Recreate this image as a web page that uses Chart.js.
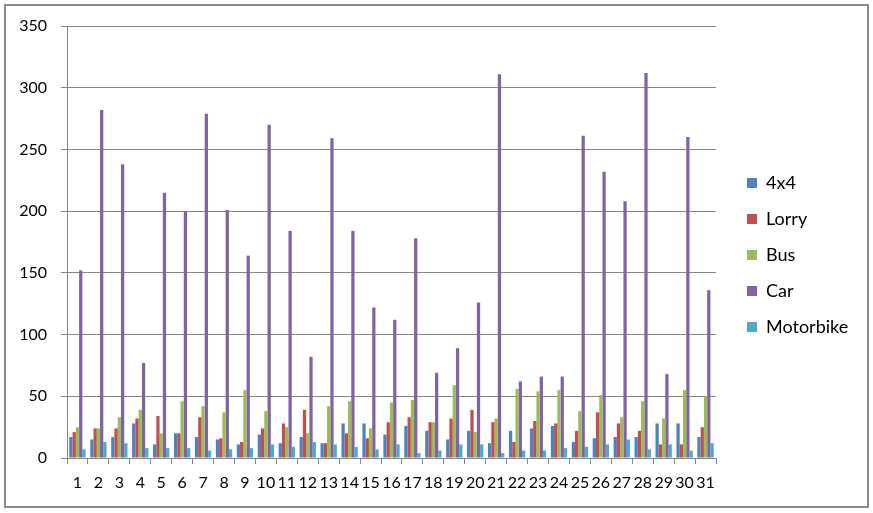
<!DOCTYPE html>
<html>
<head>
<meta charset="utf-8">
<script src="https://cdn.jsdelivr.net/npm/chart.js@4/dist/chart.umd.min.js"></script>
<style>
  html, body { margin: 0; padding: 0; background: #fff; }
  #wrap { position: relative; width: 873px; height: 513px; }
</style>
</head>
<body>
<div id="wrap"><canvas id="c" width="873" height="513"></canvas></div>
<script>
const categories = ["1","2","3","4","5","6","7","8","9","10","11","12","13","14","15","16","17","18","19","20","21","22","23","24","25","26","27","28","29","30","31"];
const seriesNames = ["4x4", "Lorry", "Bus", "Car", "Motorbike"];
const val4x4 = [17,15,17,28,11,20,17,15,11,19,12,17,12,28,28,19,26,22,15,22,12,22,24,26,13,16,17,17,28,28,17];
const valLorry = [21,24,24,32,34,20,33,16,13,24,28,39,12,20,16,29,33,29,32,39,29,13,30,28,22,37,28,22,11,11,25];
const valBus = [25,24,33,39,20,46,42,37,55,38,25,20,42,46,24,45,47,29,59,21,32,56,54,55,38,51,33,46,32,55,50];
const valCar = [152,282,238,77,215,200,279,201,164,270,184,82,259,184,122,112,178,69,89,126,311,62,66,66,261,232,208,312,68,260,136];
const valMoto = [7,13,12,8,8,8,6,7,8,11,9,13,11,9,7,11,4,6,11,11,4,6,6,8,9,11,15,7,11,6,12];
const yTicks = [0,50,100,150,200,250,300,350];

const colors = ["#4F81BD", "#C0504D", "#9BBB59", "#8064A2", "#4BACC6"];
const seriesValues = [val4x4, valLorry, valBus, valCar, valMoto];

const FONT = "Lato, 'Noto Sans', sans-serif";
const legendFontSize = 18;

// measure legend text to position legend
const mctx = document.createElement('canvas').getContext('2d');
mctx.font = legendFontSize + "px " + FONT;
let maxText = 0;
seriesNames.forEach(n => { maxText = Math.max(maxText, mctx.measureText(n).width); });
const itemWidth = 10 + legendFontSize / 2 + maxText;
const padRight = Math.max(0, 116 - itemWidth);

const borderPlugin = {
  id: 'outerBorder',
  beforeDraw(chart) {
    const ctx = chart.ctx;
    ctx.save();
    ctx.fillStyle = '#fff';
    ctx.fillRect(0, 0, chart.width, chart.height);
    ctx.strokeStyle = '#8c8c8c';
    ctx.lineWidth = 2;
    ctx.strokeRect(5, 5, 863, 502);
    ctx.restore();
  }
};

new Chart(document.getElementById('c'), {
  type: 'bar',
  data: {
    labels: categories,
    datasets: seriesNames.map((name, i) => ({
      label: name,
      data: seriesValues[i],
      backgroundColor: colors[i],
      borderWidth: 0,
      categoryPercentage: 0.78,
      barPercentage: 1.0
    }))
  },
  options: {
    responsive: false,
    animation: false,
    events: [],
    layout: { padding: { left: 10, top: 7, bottom: 10, right: padRight } },
    plugins: {
      tooltip: { enabled: false },
      legend: {
        position: 'right',
        align: 'center',
        labels: {
          font: { family: FONT, size: legendFontSize },
          color: '#000',
          boxWidth: 10,
          boxHeight: 10,
          padding: 18
        }
      }
    },
    scales: {
      x: {
        grid: {
          offset: true,
          drawOnChartArea: false,
          drawTicks: true,
          tickLength: 6,
          color: '#868686'
        },
        border: { display: true, color: '#868686', width: 1 },
        ticks: {
          autoSkip: false,
          maxRotation: 0,
          minRotation: 0,
          padding: 9,
          color: '#000',
          font: { family: FONT, size: 16 }
        },
        afterFit(s) { s.height = 45; }
      },
      x2: {
        type: 'linear',
        position: 'top',
        display: true,
        grid: { display: false, drawTicks: false },
        border: { display: false },
        ticks: { display: false },
        afterFit(s) { s.height = 19; }
      },
      y: {
        min: 0,
        max: 350,
        afterBuildTicks(s) { s.ticks = yTicks.map(v => ({ value: v })); },
        grid: {
          color: '#868686',
          drawTicks: true,
          tickLength: 6,
          lineWidth: 1
        },
        border: { display: true, color: '#868686', width: 1 },
        ticks: {
          padding: 14,
          color: '#000',
          font: { family: FONT, size: 16 }
        },
        afterFit(s) { s.width = 57; }
      },
      y2: {
        position: 'right',
        display: true,
        grid: { display: false, drawTicks: false },
        border: { display: false },
        ticks: { display: false },
        afterFit(s) { s.width = 13; }
      }
    }
  },
  plugins: [borderPlugin]
});
</script>
</body>
</html>
